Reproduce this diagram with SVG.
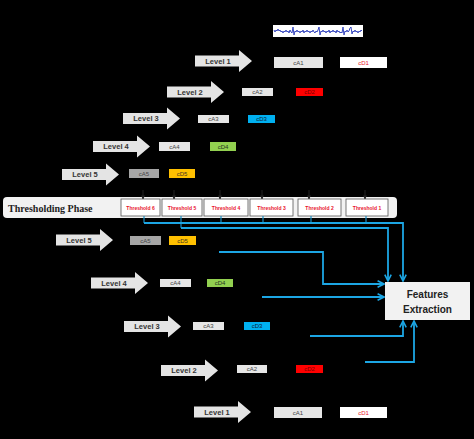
<svg xmlns="http://www.w3.org/2000/svg" width="474" height="439" viewBox="0 0 474 439">
<style>
.bg{fill:#000}
.arr{fill:#E4E4E4}
.lvl{font-family:"Liberation Sans",Arial,sans-serif;font-weight:bold;font-size:7.5px;fill:#333;text-anchor:middle}
.bl{font-family:"Liberation Sans",Arial,sans-serif;font-size:6px;fill:#444;text-anchor:middle}
.tb{fill:#fff;stroke:#555;stroke-width:0.8}
.tt{font-family:"Liberation Sans",Arial,sans-serif;font-weight:bold;font-size:5px;fill:#E8102A;text-anchor:middle}
.con{fill:none;stroke:#1CA6E4;stroke-width:1.8}
.tick{fill:none;stroke:#1A8CC0;stroke-width:1.2}
</style>
<defs>
<path id="ar" d="M0,-5.5 H44 V-11 L57,0 L44,11 V5.5 H0 Z"/>
<marker id="mh" viewBox="0 0 10 10" refX="9" refY="5" markerWidth="8" markerHeight="8" markerUnits="userSpaceOnUse" orient="auto">
<path d="M1,1 L9,5 L1,9" fill="none" stroke="#1CA6E4" stroke-width="2"/>
</marker>
<marker id="mk" viewBox="0 0 10 10" refX="9" refY="5" markerWidth="4" markerHeight="4" markerUnits="userSpaceOnUse" orient="auto">
<path d="M0,0 L10,5 L0,10 Z" fill="#222"/>
</marker>
</defs>
<rect class="bg" x="0" y="0" width="474" height="439"/>

<g id="signal">
<rect x="273" y="25" width="90" height="12" fill="#fff"/>
<polyline fill="none" stroke="#3848C0" stroke-width="1" points="274,30 275,32 276,30 277,31 278,29 279,31 280,30 281,32 282,31 283,33 284,31 285,32 286,30 287,32 288,31 289,33 290,30 291,32 292,33 293,27 294,35 295,31 296,32 297,30 298,32 299,31 300,33 301,31 302,32 303,30 304,33 305,31 306,32 307,30 308,32 309,31 310,33 311,31 312,32 313,30 314,32 315,33 316,31 317,32 318,30 319,27 320,35 321,31 322,32 323,30 324,32 325,31 326,33 327,31 328,32 329,30 330,33 331,31 332,32 333,30 334,32 335,31 336,33 337,30 338,32 339,31 340,33 341,32 342,33 343,27 344,35 345,31 346,32 347,30 348,32 349,31 350,28 351,27 352,34 353,31 354,32 355,30 356,32 357,31 358,33 359,31 360,32 361,30 362,31"/>
</g>

<!-- top decomposition -->
<g id="top-level1"><use href="#ar" class="arr" transform="translate(195,61)"/><text class="lvl" x="218" y="63.5">Level 1</text></g>
<g id="top-cA1"><rect x="274" y="57" width="49" height="11" fill="#E6E6E6"/><text class="bl" x="298.5" y="64.5">cA1</text></g>
<g id="top-cD1"><rect x="340" y="57" width="47" height="11" fill="#fff"/><text class="bl" x="363.5" y="64.5" style="fill:#E8102A">cD1</text></g>

<g id="top-level2"><use href="#ar" class="arr" transform="translate(167,92)"/><text class="lvl" x="190" y="94.5">Level 2</text></g>
<g id="top-cA2"><rect x="242" y="88" width="31" height="8" fill="#E6E6E6"/><text class="bl" x="257.5" y="94">cA2</text></g>
<g id="top-cD2"><rect x="296" y="88" width="27" height="8" fill="#FF0000"/><text class="bl" x="309.5" y="94" style="fill:#700">cD2</text></g>

<g id="top-level3"><use href="#ar" class="arr" transform="translate(123,118.5)"/><text class="lvl" x="146" y="121">Level 3</text></g>
<g id="top-cA3"><rect x="198" y="115" width="31" height="8" fill="#E6E6E6"/><text class="bl" x="213.5" y="121">cA3</text></g>
<g id="top-cD3"><rect x="248" y="115" width="27" height="8" fill="#00B0F0"/><text class="bl" x="261.5" y="121" style="fill:#123">cD3</text></g>

<g id="top-level4"><use href="#ar" class="arr" transform="translate(93,146.5)"/><text class="lvl" x="116" y="149">Level 4</text></g>
<g id="top-cA4"><rect x="159" y="142" width="31" height="9" fill="#E6E6E6"/><text class="bl" x="174.5" y="148.5">cA4</text></g>
<g id="top-cD4"><rect x="210" y="142" width="26" height="9" fill="#92D050"/><text class="bl" x="223" y="148.5" style="fill:#232">cD4</text></g>

<g id="top-level5"><use href="#ar" class="arr" transform="translate(62,174.5)"/><text class="lvl" x="85" y="177">Level 5</text></g>
<g id="top-cA5"><rect x="129" y="169" width="30" height="9" fill="#A6A6A6"/><text class="bl" x="144" y="175.5">cA5</text></g>
<g id="top-cD5"><rect x="169" y="169" width="26" height="9" fill="#FFC000"/><text class="bl" x="182" y="175.5" style="fill:#432">cD5</text></g>

<!-- thresholding -->
<g id="thresholding-phase">
<rect x="3" y="197" width="394" height="21" rx="4" fill="#F2F2F2"/>
<text x="8" y="211.5" font-family="'Liberation Serif','Times New Roman',serif" font-weight="bold" font-size="10" fill="#222">Thresholding Phase</text>
</g>
<g id="threshold6"><rect class="tb" x="121" y="199" width="39" height="17"/><text class="tt" x="140.5" y="209.5">Threshold 6</text></g>
<g id="threshold5"><rect class="tb" x="162" y="199" width="40" height="17"/><text class="tt" x="182" y="209.5">Threshold 5</text></g>
<g id="threshold4"><rect class="tb" x="204" y="199" width="44" height="17"/><text class="tt" x="226" y="209.5">Threshold 4</text></g>
<g id="threshold3"><rect class="tb" x="250" y="199" width="43" height="17"/><text class="tt" x="271.5" y="209.5">Threshold 3</text></g>
<g id="threshold2"><rect class="tb" x="298" y="199" width="43" height="17"/><text class="tt" x="319.5" y="209.5">Threshold 2</text></g>
<g id="threshold1"><rect class="tb" x="346" y="199" width="42" height="17"/><text class="tt" x="367" y="209.5">Threshold 1</text></g>

<!-- bottom reconstruction -->
<g id="bot-level5"><use href="#ar" class="arr" transform="translate(56,240)"/><text class="lvl" x="79" y="242.5">Level 5</text></g>
<g id="bot-cA5"><rect x="130" y="236" width="31" height="9" fill="#A6A6A6"/><text class="bl" x="145.5" y="242.5">cA5</text></g>
<g id="bot-cD5"><rect x="169" y="236" width="27" height="9" fill="#FFC000"/><text class="bl" x="182.5" y="242.5" style="fill:#432">cD5</text></g>

<g id="bot-level4"><use href="#ar" class="arr" transform="translate(91,283)"/><text class="lvl" x="114" y="285.5">Level 4</text></g>
<g id="bot-cA4"><rect x="160" y="279" width="31" height="8" fill="#E6E6E6"/><text class="bl" x="175.5" y="285">cA4</text></g>
<g id="bot-cD4"><rect x="207" y="279" width="26" height="8" fill="#92D050"/><text class="bl" x="220" y="285" style="fill:#232">cD4</text></g>

<g id="bot-level3"><use href="#ar" class="arr" transform="translate(124,326.5)"/><text class="lvl" x="147" y="329">Level 3</text></g>
<g id="bot-cA3"><rect x="193" y="322" width="31" height="8" fill="#E6E6E6"/><text class="bl" x="208.5" y="328">cA3</text></g>
<g id="bot-cD3"><rect x="244" y="322" width="26" height="8" fill="#00B0F0"/><text class="bl" x="257" y="328" style="fill:#123">cD3</text></g>

<g id="bot-level2"><use href="#ar" class="arr" transform="translate(161,370.5)"/><text class="lvl" x="184" y="373">Level 2</text></g>
<g id="bot-cA2"><rect x="237" y="365" width="30" height="8" fill="#E6E6E6"/><text class="bl" x="252" y="371">cA2</text></g>
<g id="bot-cD2"><rect x="296" y="365" width="27" height="8" fill="#FF0000"/><text class="bl" x="309.5" y="371" style="fill:#700">cD2</text></g>

<g id="bot-level1"><use href="#ar" class="arr" transform="translate(194,412)"/><text class="lvl" x="217" y="414.5">Level 1</text></g>
<g id="bot-cA1"><rect x="274" y="407" width="48" height="11" fill="#E6E6E6"/><text class="bl" x="298" y="414.5">cA1</text></g>
<g id="bot-cD1"><rect x="340" y="407" width="47" height="11" fill="#fff"/><text class="bl" x="363.5" y="414.5" style="fill:#E8102A">cD1</text></g>

<g id="features-extraction">
<rect x="385" y="282" width="85" height="38" fill="#F2F2F2"/>
<text x="427.5" y="297.5" font-family="'Liberation Sans',Arial,sans-serif" font-weight="bold" font-size="10" fill="#222" text-anchor="middle">Features</text>
<text x="427.5" y="312.5" font-family="'Liberation Sans',Arial,sans-serif" font-weight="bold" font-size="10" fill="#222" text-anchor="middle">Extraction</text>
</g>

<g id="connectors">
<line x1="143" y1="190" x2="143" y2="199" stroke="#222" stroke-width="1" marker-end="url(#mk)"/>
<line x1="174" y1="190" x2="174" y2="199" stroke="#222" stroke-width="1" marker-end="url(#mk)"/>
<line x1="220" y1="190" x2="220" y2="199" stroke="#222" stroke-width="1" marker-end="url(#mk)"/>
<line x1="262" y1="190" x2="262" y2="199" stroke="#222" stroke-width="1" marker-end="url(#mk)"/>
<line x1="309" y1="190" x2="309" y2="199" stroke="#222" stroke-width="1" marker-end="url(#mk)"/>
<line x1="365" y1="190" x2="365" y2="199" stroke="#222" stroke-width="1" marker-end="url(#mk)"/>
<path class="tick" d="M144,216 V223 M221,216 V223 M263,216 V223 M311,216 V223 M366,216 V223 M181,216 V228"/>
<path class="con" d="M144,223 H403 V281" marker-end="url(#mh)"/>
<path class="con" d="M181,228 H388 V281" marker-end="url(#mh)"/>
<path class="con" d="M219,252 H323 V284 H384" marker-end="url(#mh)"/>
<path class="con" d="M262,297 H384" marker-end="url(#mh)"/>
<path class="con" d="M310,336 H403 V321" marker-end="url(#mh)"/>
<path class="con" d="M365,362 H414 V321" marker-end="url(#mh)"/>
</g>
</svg>
